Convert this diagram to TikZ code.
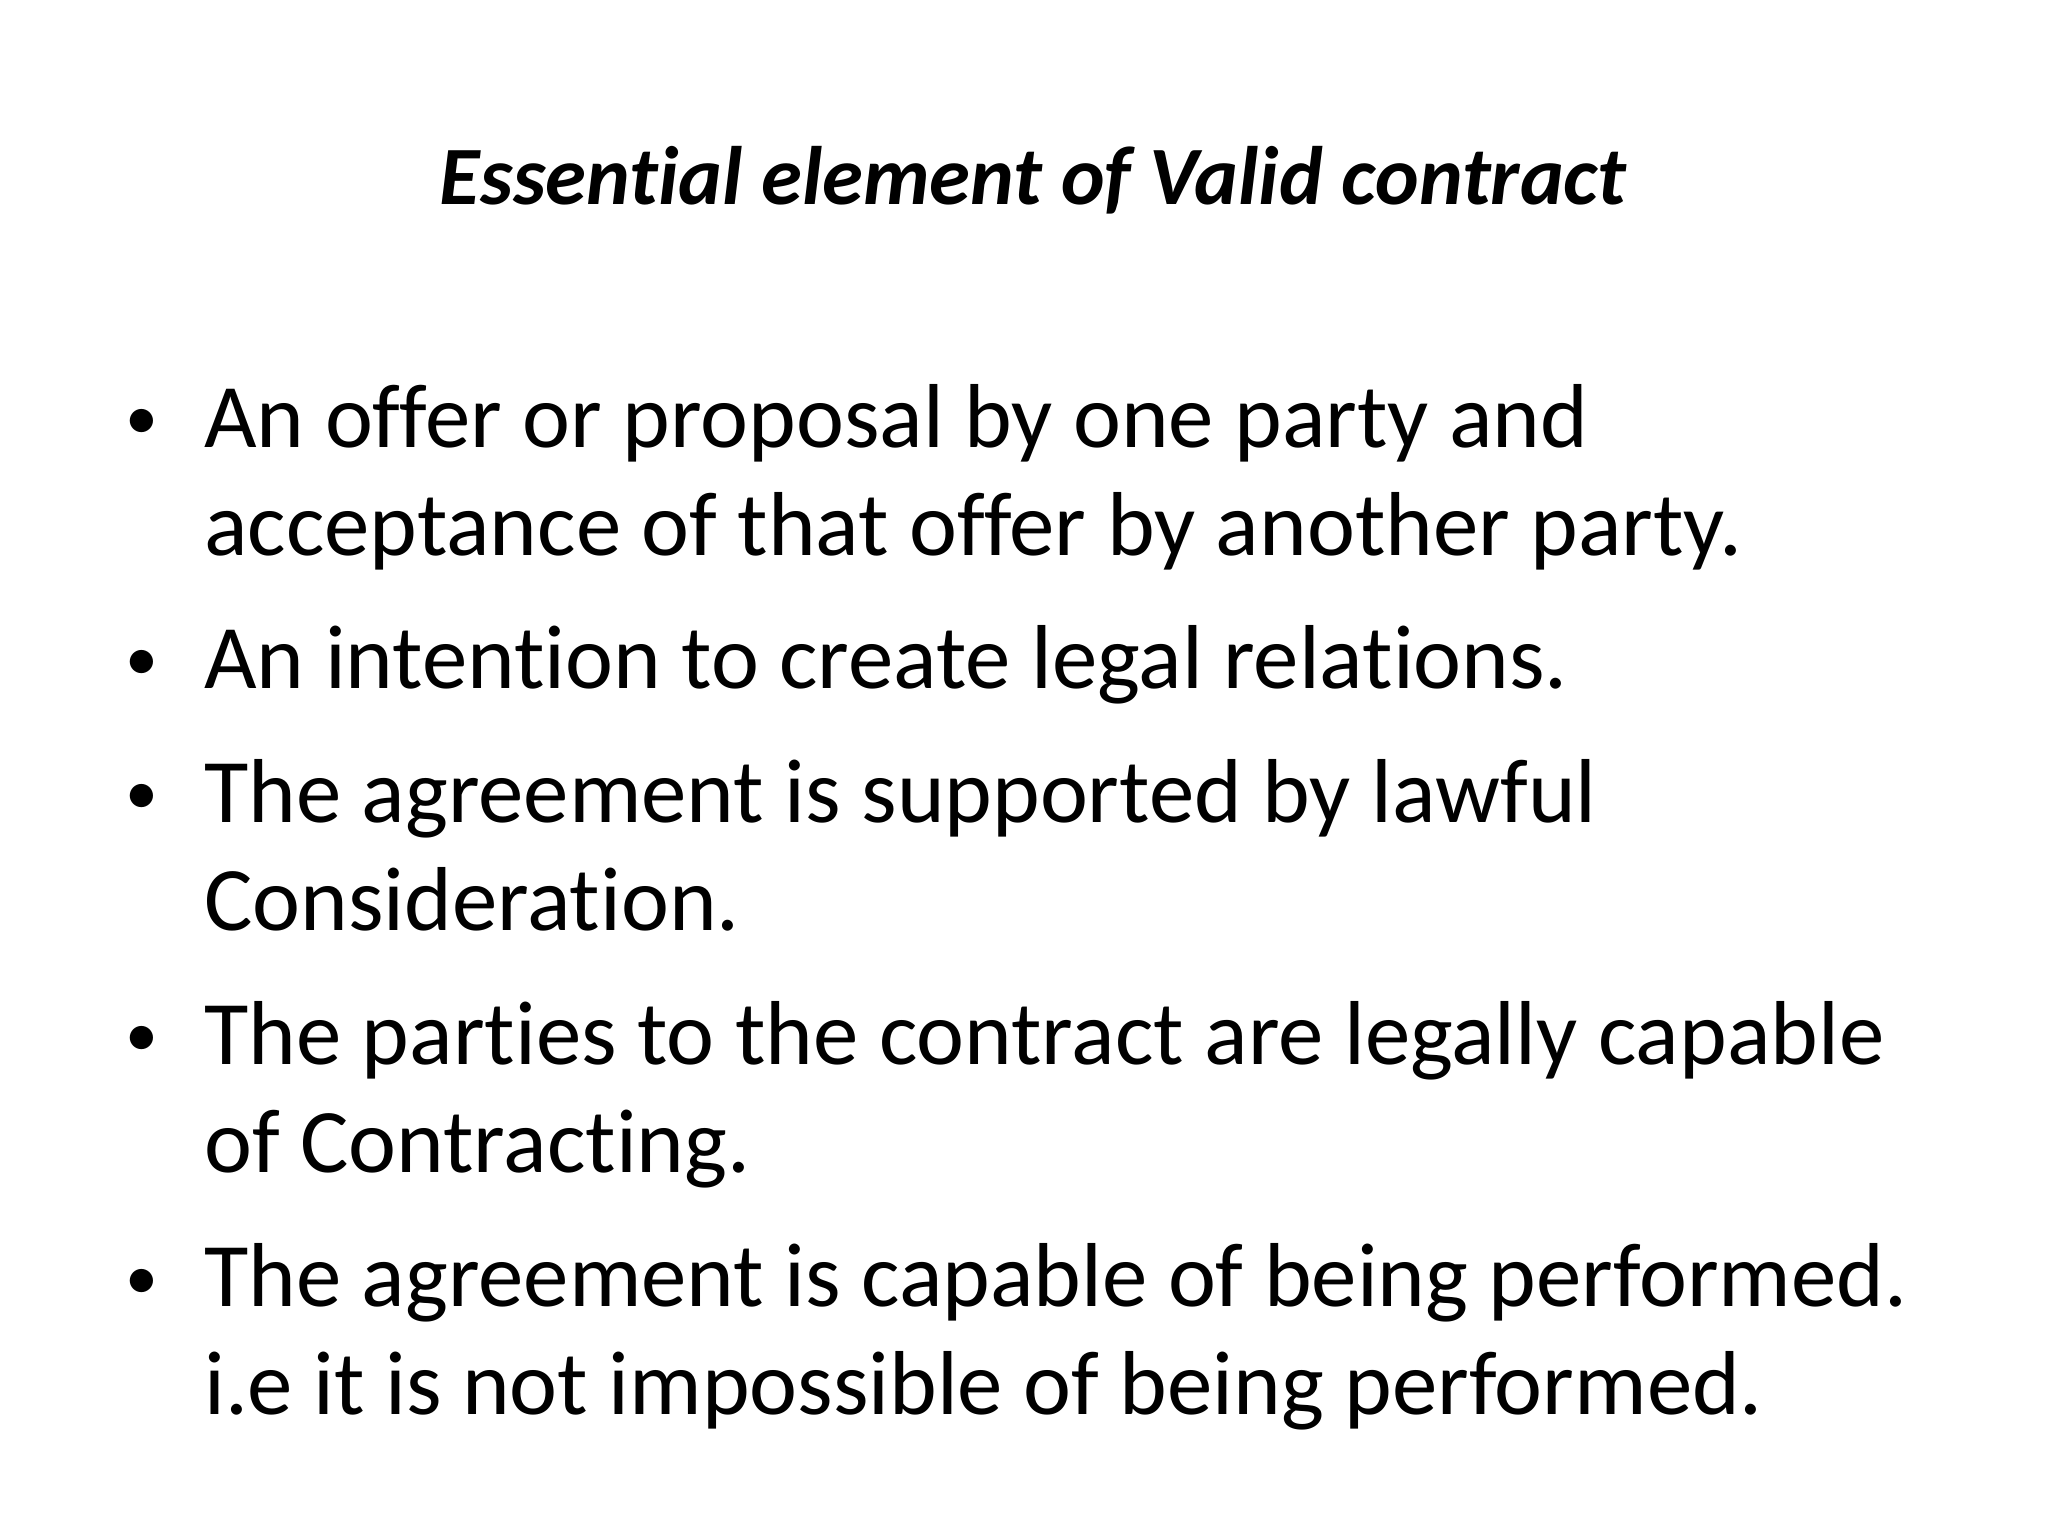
\documentclass[tikz,border=0pt]{standalone}
\usepackage{fontspec}
\setmainfont[Ligatures={NoCommon}]{Carlito}
\begin{document}
\begin{tikzpicture}[x=1pt,y=-1pt,
  line/.style={anchor=base west,inner sep=0pt,font=\fontsize{69}{82}\selectfont},
  bul/.style={anchor=base,inner sep=0pt,font=\fontsize{50}{60}\selectfont}]
\useasboundingbox[fill=white] (0,0) rectangle (1556,1167);
\node[anchor=base,inner sep=0pt,font=\fontsize{63}{72}\selectfont\bfseries\itshape] (title) at (785,155) {Essential element of Valid contract};
\node[bul] (b1) at (108,334) {•};
\node[line] (l1) at (155,340) {An offer or proposal by one party and};
\node[line] (l2) at (155,422) {acceptance of that offer by another party.};
\node[bul] (b2) at (108,517) {•};
\node[line] (l3) at (155,523) {An intention to create legal relations.};
\node[bul] (b3) at (108,619) {•};
\node[line] (l4) at (155,625) {The agreement is supported by lawful};
\node[line] (l5) at (155,707) {Consideration.};
\node[bul] (b4) at (108,803) {•};
\node[line] (l6) at (155,809) {The parties to the contract are legally capable};
\node[line] (l7) at (155,891) {of Contracting.};
\node[bul] (b5) at (108,987) {•};
\node[line] (l8) at (155,993) {The agreement is capable of being performed.};
\node[line] (l9) at (155,1075) {i.e it is not impossible of being performed.};
\end{tikzpicture}
\end{document}
